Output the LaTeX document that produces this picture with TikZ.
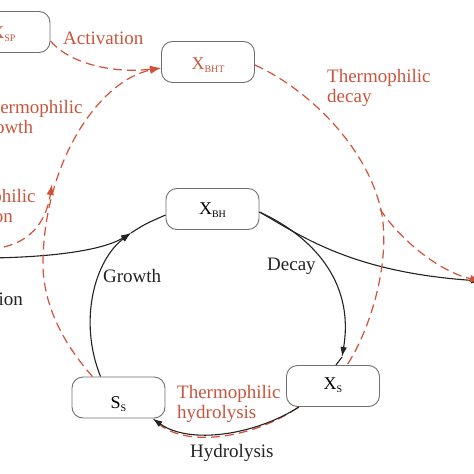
\documentclass[tikz,border=0pt]{standalone}
\usepackage{fontspec}
\setmainfont{Liberation Serif}
\usetikzlibrary{arrows.meta}
\definecolor{redc}{RGB}{210,82,56}
\definecolor{redt}{RGB}{200,85,62}
\definecolor{boxg}{RGB}{112,112,112}
\definecolor{linek}{RGB}{35,35,35}
\newcommand\sbx[1]{\raisebox{-3pt}{\fontsize{10}{11}\selectfont #1}}
\begin{document}
\begin{tikzpicture}[x=1pt,y=-1pt,
  box/.style={draw=boxg, line width=0.9pt, rounded corners=11pt, minimum width=93pt, minimum height=41pt, inner sep=0pt, font=\fontsize{18}{20}\selectfont, text depth=0pt},
  lbl/.style={inner sep=0pt, font=\fontsize{19}{20}\selectfont, text=linek},
  rlbl/.style={lbl, text=redt},
  blk/.style={draw=linek, line width=1.1pt},
  rdash/.style={draw=redc, line width=1.2pt, dash pattern=on 9pt off 5pt},
  karrow/.style={-{Latex[length=10pt,width=6.5pt]}},
  rarrow/.style={-{Latex[length=11pt,width=7.5pt]}}
]
\useasboundingbox (0,0) rectangle (474,474);
\clip (0,0) rectangle (474,474);
\fill[white] (0,0) rectangle (474,474);

% boxes
\node[box, text=redt, text height=12pt] (xsp) at (3.5,32) {X\sbx{SP}};
\node[box, text=redt, text height=14pt] (xbht) at (208,62) {X\sbx{BHT}};
\node[box, text height=11pt] (xbh) at (212.5,209) {X\sbx{BH}};
\node[box, text height=21pt] (ss) at (118.5,397.5) {S\sbx{S}};
\node[box, text height=6pt] (xs) at (333,386) {X\sbx{S}};

% free ends and merge points
\coordinate (rout) at (481,281);
\coordinate (kin) at (-10,258);
\coordinate (rin) at (-10,249);
\coordinate (mg) at (131,233);
\coordinate (mr) at (52,184);
\coordinate (rsplit) at (380,209);
\coordinate (ka) at (342,357);

% black connectors
\draw[blk, karrow] ([yshift=-3pt]xbh.east) .. controls (300,235) and (350,272) .. (rout);
\draw[blk, karrow] ([yshift=-3pt]xbh.east) .. controls (310,235) and (355,280) .. (ka);
\draw[blk] (ka) -- ([xshift=3pt]xs.north);
\draw[blk, karrow] ([xshift=-18pt]ss.north) .. controls (78,320) and (95,260) .. (mg);
\draw[blk] (mg) .. controls (145,224) .. ([yshift=-6pt]xbh.west);
\draw[blk, karrow] (kin) .. controls (60,257) and (105,249) .. (mg);
\draw[rdash] ([xshift=-35pt,yshift=-0.5pt]xs.south) .. controls (255,437) and (190,448) .. (160,425);
\draw[blk, karrow] ([xshift=-34pt]xs.south) .. controls (255,435) and (190,445) .. ([xshift=34pt]ss.south);

% red connectors
\draw[rdash, rarrow] ([yshift=-9pt]xsp.east) .. controls (68,62) and (110,74) .. ([yshift=-6pt]xbht.west);
\draw[rdash, rarrow] ([xshift=-26pt]ss.north) .. controls (60,340) and (42,300) .. (43,260) .. controls (45,160) and (100,80) .. ([yshift=-6pt]xbht.west);
\draw[rdash, rarrow] (rin) .. controls (30,246) and (46,222) .. (mr);
\draw[rdash] ([yshift=-3pt]xbht.east) .. controls (310,90) and (370,150) .. (382,215) .. controls (390,265) and (370,330) .. ([xshift=14pt]xs.north);
\draw[rdash, rarrow] (rsplit) .. controls (400,240) and (440,272) .. (rout);

% labels
\node[rlbl, anchor=base west] (lact) at (63,44) {Activation};
\node[rlbl, anchor=base west] (ltd1) at (327,82) {Thermophilic};
\node[rlbl, anchor=base west] (ltd2) at (327,102) {decay};
\node[rlbl, anchor=base west] (ltg1) at (-21,113) {Thermophilic};
\node[rlbl, anchor=base west] (ltg2) at (-21,133) {growth};
\node[rlbl, anchor=base west] (lti1) at (-68,202) {Thermophilic};
\node[rlbl, anchor=base east] (lti2) at (13,222) {germination};
\node[lbl, anchor=base east] (lgerm) at (23,305) {Germination};
\node[lbl, anchor=base west] (lgr) at (103,282) {Growth};
\node[lbl, anchor=base west] (ldec) at (267,270) {Decay};
\node[rlbl, anchor=base west] (lth1) at (177,398) {Thermophilic};
\node[rlbl, anchor=base west] (lth2) at (177,418) {hydrolysis};
\node[lbl, anchor=base west] (lhyd) at (190,457) {Hydrolysis};
\end{tikzpicture}
\end{document}
